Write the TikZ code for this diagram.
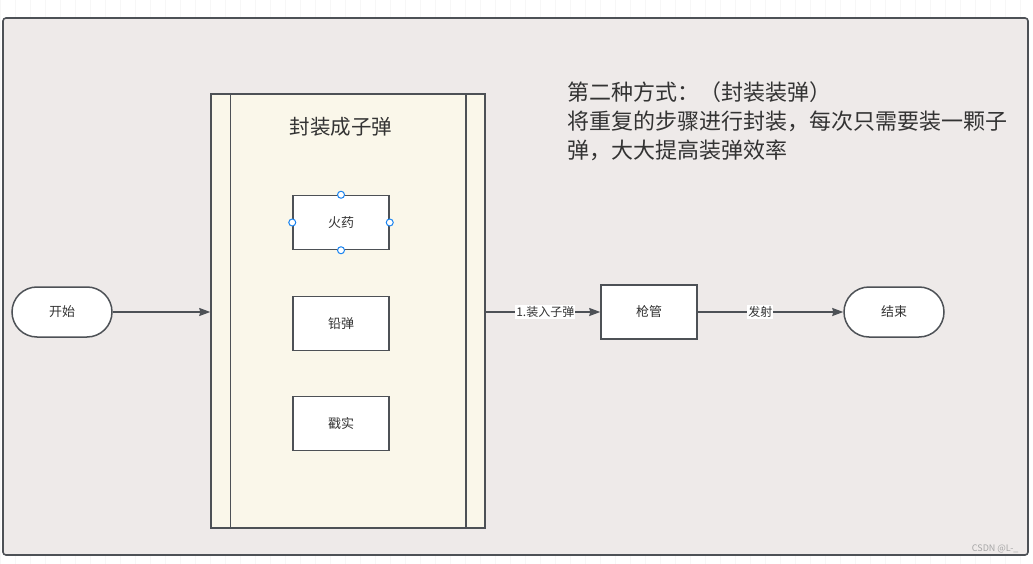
\documentclass[tikz,border=0pt]{standalone}
\usepackage{fontspec}
\setmainfont{Noto Sans CJK SC}
\usepackage{tikz}
\usetikzlibrary{arrows.meta,positioning,calc}
\definecolor{dgline}{HTML}{4D5156}
\definecolor{dgtext}{HTML}{333333}
\definecolor{bgpanel}{HTML}{EEEAE9}
\definecolor{bgcream}{HTML}{FAF7EA}
\definecolor{selblue}{HTML}{1A84F0}

\begin{document}
\begin{tikzpicture}[x=1pt, y=-1pt,
    panel/.style={draw=dgline, line width=1.6pt, fill=bgpanel, rounded corners=3pt},
    packbox/.style={draw=dgline, line width=1.5pt, fill=bgcream, minimum width=274pt, minimum height=434pt, inner sep=0pt},
    stepbox/.style={draw=dgline, line width=1.5pt, fill=white, minimum width=96pt, minimum height=54pt, inner sep=0pt, font=\fontsize{13}{15}\selectfont\color{dgtext}},
    terminal/.style={draw=dgline, line width=1.5pt, fill=white, minimum width=100pt, minimum height=50pt, rounded corners=25pt, inner sep=0pt, font=\fontsize{13}{15}\selectfont\color{dgtext}},
    handle/.style={circle, draw=selblue, fill=white, line width=1pt, inner sep=0pt, minimum size=7pt},
    flow/.style={draw=dgline, line width=1.3pt, -{Stealth[length=11pt, width=8pt, inset=1pt]}},
    flowlabel/.style={fill=white, inner sep=1pt, font=\fontsize{12}{14}\selectfont\color{dgtext}}
  ]
  \useasboundingbox (0,0) rectangle (1033,564);
  % background grid
  \draw[black!5, line width=0.6pt] (0,0) grid[step=15] (1033,564);
  \fill[white, opacity=0.4] (0,0) rectangle (1033,564);

  % Panel
  \draw[panel] (3,18) rectangle (1028,555);

  % Packed process
  \node[packbox] (pack) at (348,311) {};
  \draw[dgline, line width=1.5pt] ([xshift=20pt]pack.north west) -- ([xshift=20pt]pack.south west);
  \draw[dgline, line width=1.5pt] ([xshift=-20pt]pack.north east) -- ([xshift=-20pt]pack.south east);
  \node[font=\fontsize{20.5}{22}\selectfont\color{dgtext}] (packtitle) at (341,127) {封装成子弹};

  \node[stepbox] (powder) at (341,222.5) {火药};
  \node[stepbox] (lead) at (341,323.5) {铅弹};
  \node[stepbox] (ram) at (341,423.5) {戳实};

  % selection handles
  \foreach \a in {north,south,east,west}
    \node[handle] at (powder.\a) {};

  % Start / end
  \node[terminal] (start) at (62,312) {开始};
  \node[stepbox] (barrel) at (649,312) {枪管};
  \node[terminal] (finish) at (894,312) {结束};

  % Connectors
  \draw[flow] (start.east) -- (start.east -| pack.west);
  \draw[flow] (barrel.west -| pack.east) -- node[flowlabel, pos=0.52] {1.装入子弹} (barrel.west);
  \draw[flow] (barrel.east) -- node[flowlabel, pos=0.43] {发射} (finish.west);

  % Annotations
  \node[anchor=north west, align=left, inner sep=0pt, font=\fontsize{22}{29}\selectfont\color{dgtext}] (note) at (567,81)
    {第二种方式：（封装装弹）\\将重复的步骤进行封装，每次只需要装一颗子\\弹，大大提高装弹效率};
  \node[font=\fontsize{9}{10}\selectfont\color{black!35}, anchor=east] (mark) at (1022,549) {CSDN @L-\_};
\end{tikzpicture}
\end{document}
